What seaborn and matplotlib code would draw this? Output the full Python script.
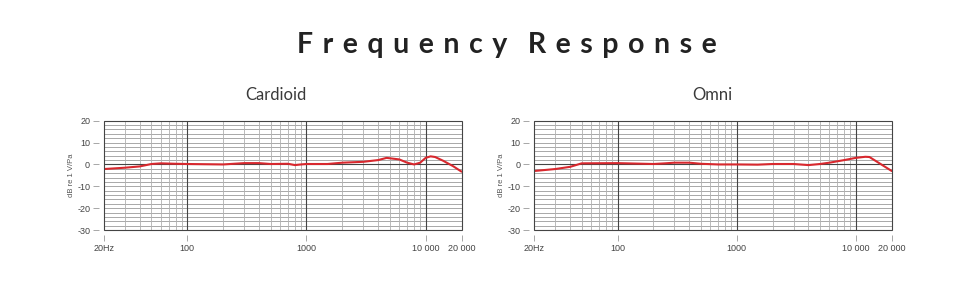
import numpy as np
import pandas as pd
import matplotlib
matplotlib.use("Agg")
import matplotlib.pyplot as plt
from matplotlib.patches import Rectangle
from matplotlib.ticker import FixedLocator, NullFormatter
import seaborn as sns

# ---- data ----
cardioid_freq = [20, 30, 40, 50, 60, 80, 100, 200, 300, 400, 500, 700, 800, 900,
                 1000, 1500, 2000, 3000, 4000, 4700, 6000, 7000, 8000, 9000,
                 10000, 11000, 12000, 14000, 17000, 20000]
cardioid_db = [-2.1, -1.5, -0.9, 0.2, 0.5, 0.3, 0.2, 0.0, 0.6, 0.6, 0.2, 0.3, -0.3, 0.0,
               0.2, 0.2, 0.8, 1.2, 2.0, 3.0, 2.3, 0.8, 0.0, 0.8,
               3.0, 3.7, 3.4, 1.7, -0.8, -3.3]

omni_freq = [20, 30, 40, 50, 100, 200, 250, 300, 400, 500, 700, 1000, 1500, 2000,
             3000, 4000, 5000, 6000, 8000, 10000, 12000, 13000, 20000]
omni_db = [-3.0, -2.1, -1.1, 0.5, 0.6, 0.2, 0.5, 0.8, 0.8, 0.3, 0.0, 0.0, -0.1, 0.2,
           0.2, -0.3, 0.2, 0.8, 2.0, 3.0, 3.5, 3.4, -3.0]

x_ticks = [20, 100, 1000, 10000, 20000]
x_tick_labels = ["20Hz", "100", "1000", "10 000", "20 000"]
y_ticks = [-30, -20, -10, 0, 10, 20]
titles = ["Cardioid", "Omni"]
main_title = "Frequency Response"

sns.set_theme(style="white")
plt.rcParams["font.family"] = ["Liberation Sans", "DejaVu Sans"]
plt.rcParams["axes.unicode_minus"] = False

fig = plt.figure(figsize=(9.7, 3.0), dpi=100)
ax1 = fig.add_axes([0.1072, 0.2333, 0.3686, 0.3643])
ax2 = fig.add_axes([0.5508, 0.2333, 0.3685, 0.3643])

minor_x = [f for dec in (10, 100, 1000, 10000) for f in range(2 * dec, 10 * dec, dec)
           if 20 <= f <= 20000 and f not in (100, 1000, 10000)]

red = "#d8282e"
title_x = [0.2845, 0.734]
for ax, fr, db, ttl, tx in [(ax1, cardioid_freq, cardioid_db, titles[0], title_x[0]),
                            (ax2, omni_freq, omni_db, titles[1], title_x[1])]:
    df = pd.DataFrame({"freq": fr, "db": db})
    ax.set_xscale("log")
    for yv in range(-30, 21, 2):
        if yv == 0:
            continue
        ax.axhline(yv, color="#9a9a9a", lw=0.6, zorder=1)
    for xv in minor_x:
        ax.axvline(xv, color="#b0b0b0", lw=0.6, zorder=1)
    for xv in (100, 1000, 10000):
        ax.axvline(xv, color="#444444", lw=0.8, zorder=1)
    ax.axhline(0, color="#444444", lw=0.8, zorder=1)
    sns.lineplot(data=df, x="freq", y="db", ax=ax, color=red, lw=1.5, zorder=3)
    ax.set_xlim(20, 20000)
    ax.set_ylim(-30, 20)
    ax.add_patch(Rectangle((0, 0), 1, 1, transform=ax.transAxes, fill=False,
                           edgecolor="#444444", lw=0.8, zorder=4, clip_on=False))
    for s in ax.spines.values():
        s.set_visible(False)
    ax.spines["left"].set_position(("outward", 3.5))
    ax.spines["bottom"].set_position(("outward", 3.5))
    ax.xaxis.set_major_locator(FixedLocator(x_ticks))
    ax.xaxis.set_minor_locator(FixedLocator([]))
    ax.xaxis.set_minor_formatter(NullFormatter())
    ax.set_xticklabels(x_tick_labels)
    ax.set_yticks(y_ticks)
    ax.tick_params(axis="both", which="major", direction="out", length=4, width=0.6,
                   color="#999999", labelsize=6.5, labelcolor="#444444", pad=2.5,
                   bottom=True, left=True)
    ax.set_xlabel("")
    ax.set_ylabel("dB re 1 V/Pa", fontsize=5.5, color="#555555", labelpad=1.5)
    ax.grid(False)
    fig.text(tx, 0.683, ttl, ha="center", va="center", fontsize=12, color="#3a3a3a",
             family=["Lato", "DejaVu Sans"], fontweight="normal")

spaced = "   ".join("\u2004".join(w) for w in main_title.split(" "))
fig.text(0.523, 0.85, spaced, ha="center", va="center", fontsize=20.5,
         fontweight="bold", color="#222222", family=["Lato", "DejaVu Sans"])

fig.savefig("out.png", dpi=100, facecolor="white")
